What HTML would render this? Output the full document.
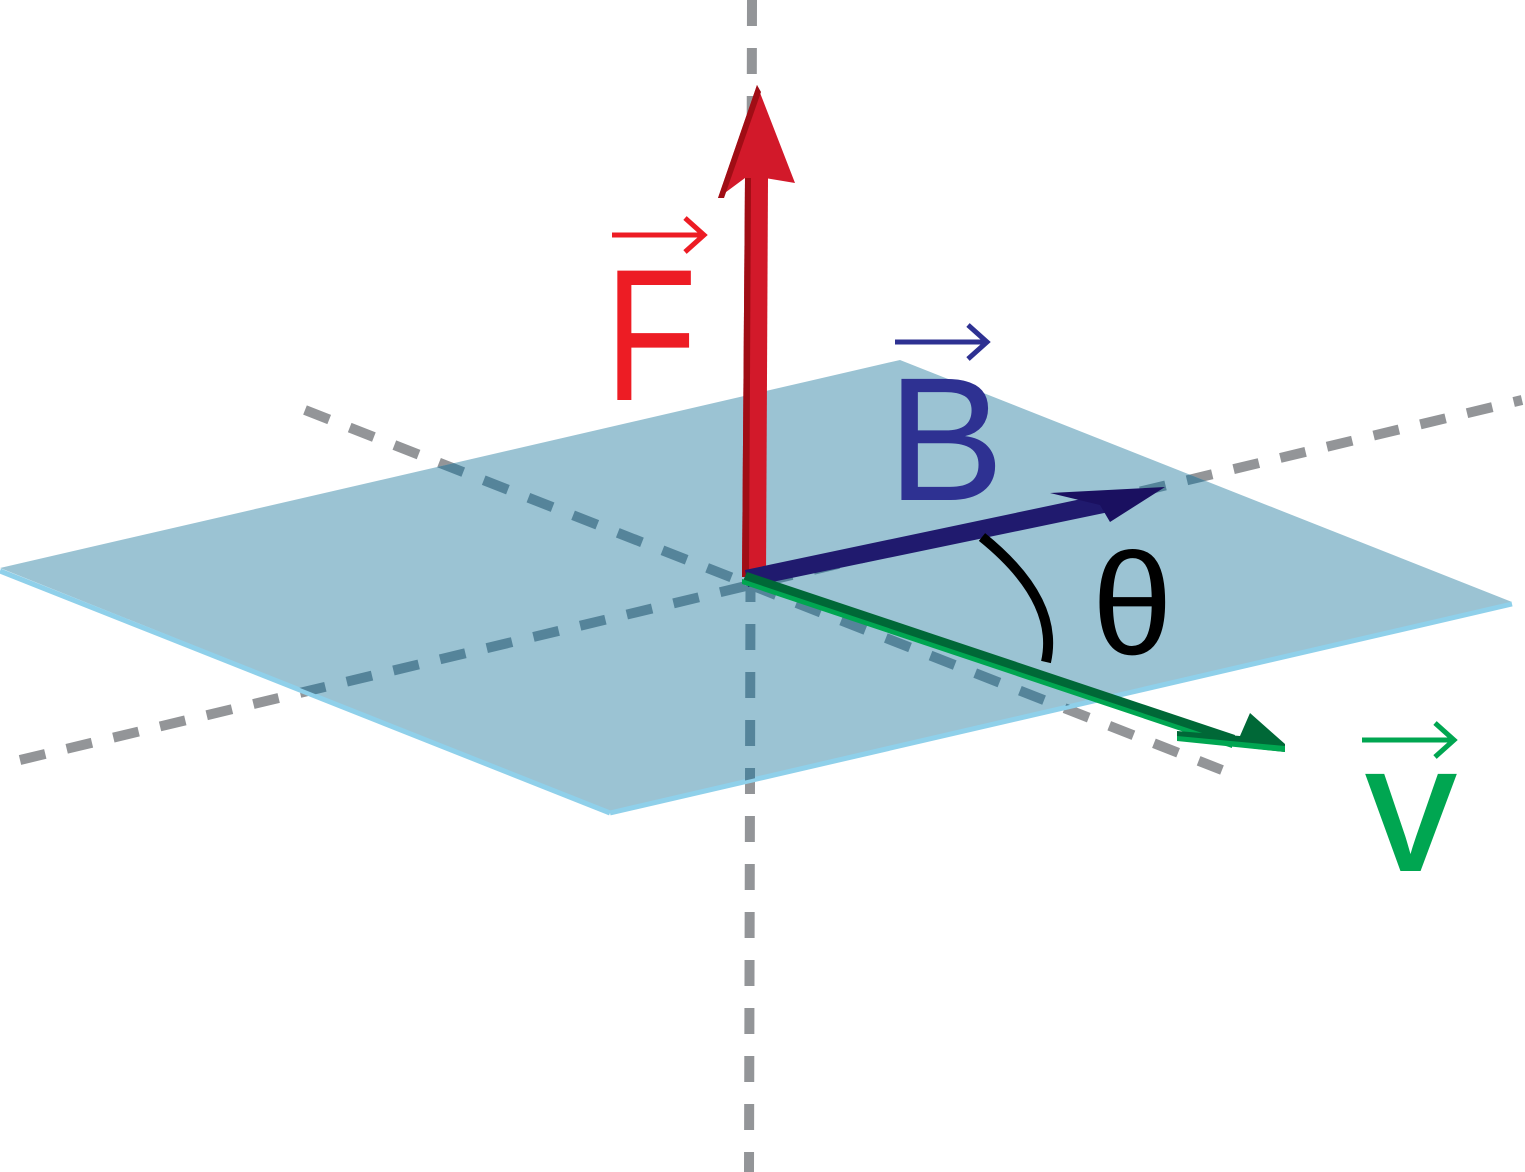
<!DOCTYPE html>
<html><head><style>html,body{margin:0;padding:0;background:#fff;}svg{display:block}</style></head>
<body>
<svg width="1525" height="1172" viewBox="0 0 1525 1172" xmlns="http://www.w3.org/2000/svg">
<defs>
<clipPath id="pl"><polygon points="0,568 900,360 1512,602 610,812"/></clipPath>
<g id="axes" fill="none" stroke-width="10" stroke-dasharray="26 22">
<line x1="752" y1="0" x2="749" y2="1172"/>
<line x1="20" y1="760" x2="1522" y2="400"/>
<line x1="305" y1="410" x2="1222" y2="770"/>
</g>
</defs>
<use href="#axes" stroke="#939598"/>
<polygon points="0,568 900,360 1512,602 610,812" fill="#9bc3d3"/>
<line x1="0" y1="571" x2="610" y2="813" stroke="#8fd0ea" stroke-width="5"/>
<line x1="610" y1="813" x2="1512" y2="604" stroke="#8fd0ea" stroke-width="5"/>
<g clip-path="url(#pl)"><use href="#axes" stroke="#55849a"/></g>
<!-- F arrow -->
<polygon points="742,577 766,577 768,178 745,178" fill="#d2192a"/>
<polygon points="742,577 749,577 751,178 745,178" fill="#a00d15"/>
<polygon points="757,85 795,183 765,178 745,178 718,198" fill="#d2192a"/>
<polygon points="757,85 718,198 724,198 761,92" fill="#a00d15"/>
<!-- B arrow -->
<polygon points="745,570 1105,494 1109,512 748,587" fill="#201a6e"/>
<polygon points="1050,493 1165,487 1110,522 1100,505" fill="#1a1060"/>
<!-- v arrow -->
<polygon points="747,572 1235,735 1232,747 742,583" fill="#006837"/>
<polygon points="742,579 1232,743 1232,748 742,584" fill="#00a651"/>
<polygon points="1177,731 1240,736 1250,713 1285,744 1285,752 1177,740" fill="#006837"/>
<polygon points="1177,736 1285,746 1285,752 1177,741" fill="#00a651"/>
<!-- angle arc -->
<path d="M982,537 Q1060,600 1046,662" fill="none" stroke="#000" stroke-width="10"/>
<!-- labels -->
<g font-family="Liberation Sans, sans-serif">
<text x="0" y="400" font-size="188" fill="#ed1c24" transform="translate(605,0) scale(0.8,1)">F</text>
<line x1="612" y1="235" x2="702" y2="235" stroke="#ed1c24" stroke-width="5"/>
<path d="M685,218 L704,235 L685,252" fill="none" stroke="#ed1c24" stroke-width="5"/>
<text x="887" y="500" font-size="176" fill="#2e3192">B</text>
<line x1="895" y1="342" x2="985" y2="342" stroke="#2e3192" stroke-width="5"/>
<path d="M968,325 L987,342 L968,359" fill="none" stroke="#2e3192" stroke-width="5"/>
<text x="1366" y="870" font-size="180" fill="#00a651" stroke="#00a651" stroke-width="2">v</text>
<line x1="1362" y1="740" x2="1452" y2="740" stroke="#00a651" stroke-width="5"/>
<path d="M1435,723 L1454,740 L1435,757" fill="none" stroke="#00a651" stroke-width="5"/>
<text x="1092" y="654" font-size="145" fill="#000">θ</text>
</g>
</svg>
</body></html>
